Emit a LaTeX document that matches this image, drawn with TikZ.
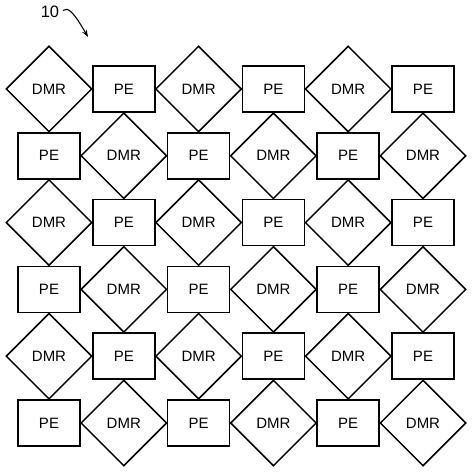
\documentclass[tikz,border=0pt]{standalone}
\usepackage{fontspec}
\setmainfont{Liberation Sans}
\usetikzlibrary{shapes.geometric,arrows.meta}
\begin{document}
\begin{tikzpicture}[x=1pt,y=-1pt,
  cell/.style={draw=black,line width=1.5pt,inner sep=0pt,font=\fontsize{15}{17}\selectfont},
  dmr/.style={cell,diamond,minimum width=86pt,minimum height=86pt},
  pebox/.style={cell,rectangle,minimum width=62pt,minimum height=46pt},
  lbl/.style={font=\fontsize{16.5}{18}\selectfont,inner sep=1pt}]
\useasboundingbox (0,0) rectangle (474,473);
\foreach \r in {0,...,5}{
  \foreach \c in {0,...,5}{
    \pgfmathsetmacro{\xx}{49+74.8*\c}
    \pgfmathsetmacro{\yy}{89+66.8*\r}
    \pgfmathtruncatemacro{\parity}{mod(\r+\c,2)}
    \ifnum\parity=0
      \node[dmr] (n-\r-\c) at (\xx,\yy) {DMR};
    \else
      \node[pebox] (n-\r-\c) at (\xx,\yy) {PE};
    \fi
  }
}
\node[lbl] (ten) at (50,12) {10};
\coordinate (tip) at (88,37);
\draw[line width=1.1pt,shorten <=3pt,-{Stealth[length=7pt,width=5pt]}] (ten.east) .. controls (68,7) and (73,11) .. (tip);
\end{tikzpicture}
\end{document}
